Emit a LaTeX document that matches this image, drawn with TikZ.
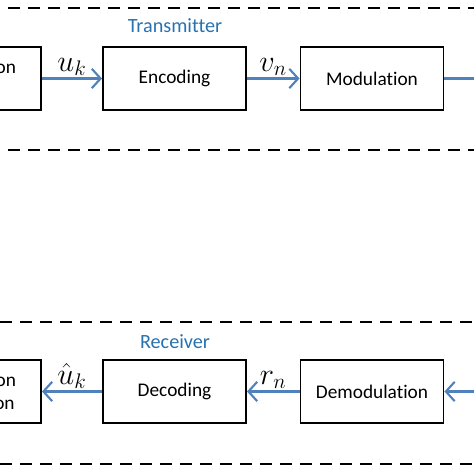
\documentclass[tikz,border=0pt]{standalone}
\usepackage{fontspec}
\setmainfont{Carlito}[Ligatures=NoCommon]
\usetikzlibrary{arrows.meta}
\definecolor{linkblue}{RGB}{79,129,189}
\definecolor{titleblue}{RGB}{40,114,176}
\tikzset{
	block/.style={draw=black, line width=1.1pt, minimum width=2.86cm, minimum height=1.26cm, align=center, font=\fontsize{11}{13.5}\selectfont},
	link/.style={draw=linkblue, line width=1.2pt, -{Straight Barb[length=5pt,width=11pt,line width=1.2pt]}},
	sep/.style={line width=1.4pt, dash pattern=on 0.24cm off 0.16cm},
	sig/.style={font=\LARGE, inner sep=1pt},
	part/.style={text=titleblue, font=\fontsize{11.5}{13}\selectfont}
}

\begin{document}
\begin{tikzpicture}[x=0.02cm, y=-0.02cm]
		%%%%% START %%%%%
		
		\useasboundingbox (0, 0) rectangle (474, 474);
		\clip (0, 0) rectangle (474, 474);
		
		\draw[sep] (8, 8) -- (474, 8);
		\draw[sep] (8, 150) -- (474, 150);
		\draw[sep] (0, 322) -- (474, 322);
		\draw[sep] (0, 464) -- (474, 464);
		
		\node[part] (tx) at (175, 26) {Transmitter};
		\node[part] (rx) at (175, 342) {Receiver};
		
		\node[block] (src) at (-30.5, 78.5) {Information\\Source};
		\node[block] (enc) at (174.5, 78.5) {Encoding};
		\node[block] (mod) at (372, 78.5) {Modulation};
		\coordinate (chin) at (480, 78.5);
		
		\node[block] (dst) at (-30.5, 391.5) {Information\\Destination};
		\node[block] (dec) at (174.5, 391.5) {Decoding};
		\node[block] (dem) at (372, 391.5) {Demodulation};
		\coordinate (chout) at (480, 391.5);
		
		\draw[link] (src) -- node[sig, above=0pt] (uk) {$u_k$} (enc);
		\draw[link] (enc) -- node[sig, above=0pt] (vn) {$v_n$} (mod);
		\draw[link, -] (mod) -- (chin);
		
		\draw[link] (chout) -- (dem);
		\draw[link] (dem) -- node[sig, above=0pt] (rn) {$r_n$} (dec);
		\draw[link] (dec) -- node[sig, above=0pt] (uhat) {$\hat{u}_k$} (dst);
		
		%%%%% END %%%%%
	\end{tikzpicture}
\end{document}
